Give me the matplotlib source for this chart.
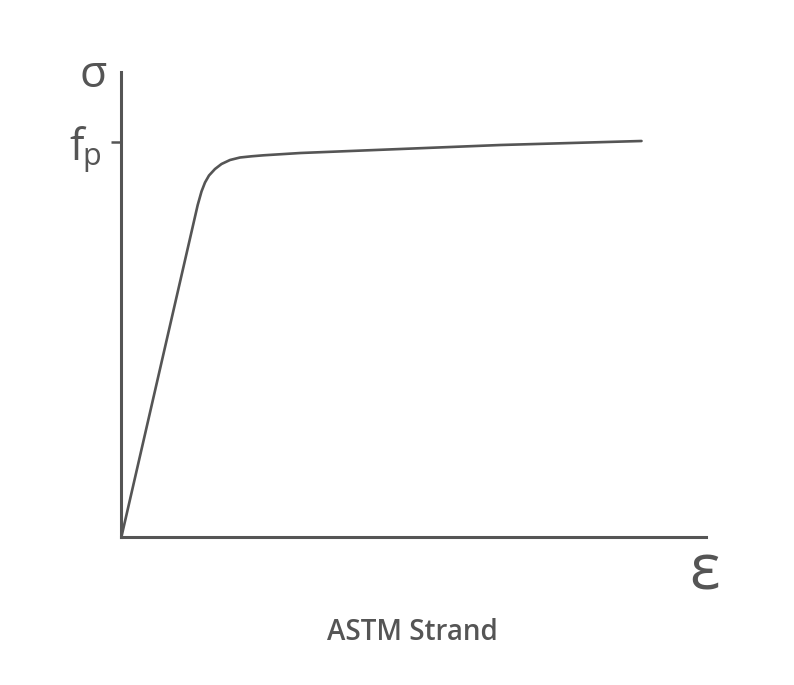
import matplotlib
matplotlib.use("Agg")
import matplotlib.pyplot as plt
import numpy as np

# stress-strain curve, strain normalised to end of curve = 1, stress to fp = 1
strain = np.array([0, 76.2, 80, 83.5, 87.5, 93.5, 100, 108.5, 118.5,
                   130, 142, 179, 279, 379, 520]) / 520
stress = np.array([0, 331.5, 345, 354, 361, 367.5, 372.5, 376.5,
                   379, 380.2, 381.2, 383.5, 387.5, 391.5, 395.5]) / 394.5

caption = "ASTM Strand"
grey = "#555555"

W, H = 794, 685
fig = plt.figure(figsize=(W / 100, H / 100), dpi=100)
# axes box: origin at (121, 536), x axis to 706, y axis up to 72
ax = fig.add_axes([121.5 / W, (H - 536.5) / H, (706 - 121.5) / W, (536.5 - 72) / H])
ax.set_xlim(0, 584.5 / 520)
ax.set_ylim(0, 464.5 / 394.5)

ax.plot(strain, stress, color=grey, lw=1.9, solid_capstyle="round", solid_joinstyle="round")

for side in ["top", "right"]:
    ax.spines[side].set_visible(False)
for side in ["left", "bottom"]:
    ax.spines[side].set_color(grey)
    ax.spines[side].set_linewidth(2.2)

ax.set_xticks([])
ax.set_yticks([1.0])
ax.set_yticklabels([""])
ax.tick_params(axis="y", length=7, width=1.8, color=grey)

font = "Open Sans"
fig.text(93 / W, (H - 87) / H, "σ", fontsize=32, family=font, color=grey, ha="center", va="baseline")
fig.text(704 / W, (H - 590) / H, "ε", fontsize=46, family=font, color=grey, ha="center", va="baseline")
fig.text(69 / W, (H - 160) / H, "f", fontsize=31, family=font, color=grey, ha="left", va="baseline")
fig.text(82 / W, (H - 165) / H, "p", fontsize=22, family=font, color=grey, ha="left", va="baseline")
fig.text(412 / W, (H - 640) / H, caption, fontsize=20, family=font, weight="semibold",
         color=grey, ha="center", va="baseline")

fig.savefig("out.png", dpi=100, facecolor="white")
